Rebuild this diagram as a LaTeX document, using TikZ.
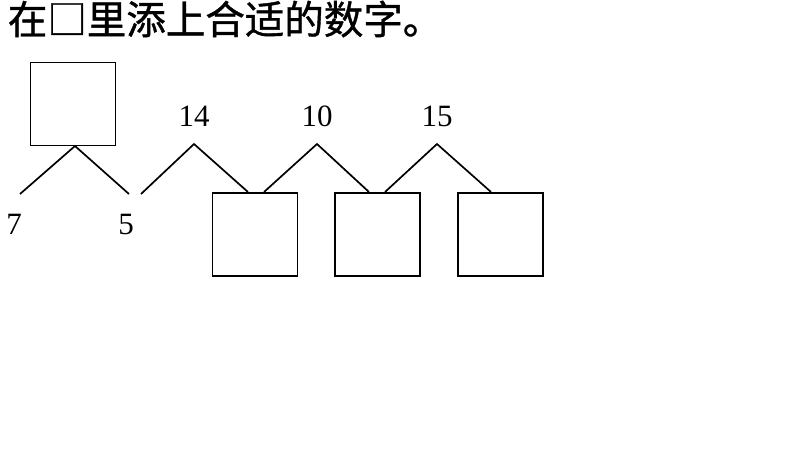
\documentclass[tikz,border=0pt]{standalone}
\usepackage{fontspec}
\setmainfont{Liberation Serif}
\newfontfamily\cjk[AutoFakeBold=1]{Noto Sans CJK SC}
\usetikzlibrary{positioning}

\begin{document}
\begin{tikzpicture}[x=1pt,y=-1pt,line width=1.7pt,
    answer/.style={draw,minimum width=85pt,minimum height=83pt,inner sep=0pt},
    num/.style={font=\fontsize{31}{33}\selectfont,inner sep=0pt}]
\useasboundingbox (0,0) rectangle (800,451);

% Title
\node[anchor=west,inner sep=0pt,font=\fontsize{39.5}{41}\selectfont] (title) at (7,19) {\cjk\bfseries 在□里添上合适的数字。};

% Boxes to fill in
\node[answer] (b0) at (73,104) {};
\node[answer] (b1) at (255,234.5) {};
\node[answer] (b2) at (377.5,234.5) {};
\node[answer] (b3) at (500.5,234.5) {};

% Coordinates of the legs
\coordinate (a0) at (75,146);
\coordinate (l0) at (20,194);
\coordinate (r0) at (129,194);
\coordinate (p1) at (194,144);
\coordinate (p2) at (317,144);
\coordinate (p3) at (437,144);
\coordinate (s1) at (141,194);
\coordinate (e1) at (248,192);
\coordinate (s2) at (264,192);
\coordinate (e2) at (369,192);
\coordinate (s3) at (385,192);
\coordinate (e3) at (491,192);

% Numbers
\node[num] (n7) at (14,224) {7};
\node[num] (n5) at (126,224) {5};
\node[num] (n14) at (194,116) {14};
\node[num] (n10) at (317,116) {10};
\node[num] (n15) at (437,116) {15};

% Draw legs
\draw (l0) -- (a0) -- (r0);
\foreach \i in {1,2,3}{
    \draw (s\i) -- (p\i) -- (e\i);
}

\end{tikzpicture}
\end{document}
